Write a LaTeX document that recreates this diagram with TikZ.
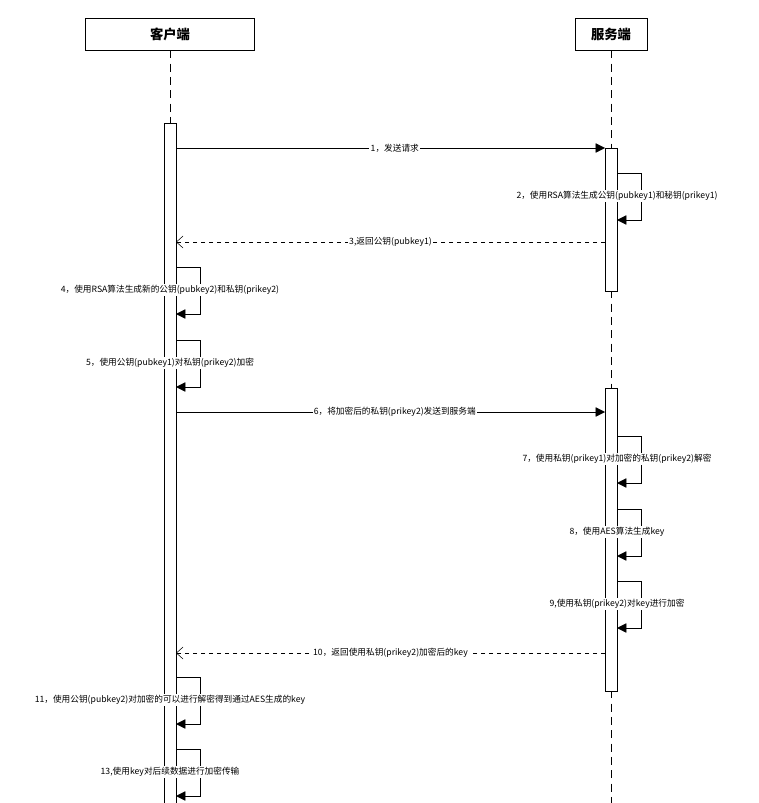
\documentclass[tikz,border=0pt]{standalone}
\usepackage{fontspec}
\setmainfont{Noto Sans CJK SC}
\usetikzlibrary{arrows.meta}
\begin{document}
\begin{tikzpicture}[x=0.75pt,y=-0.75pt,
  hdr/.style={draw,minimum width=#1,minimum height=24pt,inner sep=0,font=\fontsize{10}{12}\selectfont\bfseries},
  act/.style={draw,fill=white,minimum width=9pt,inner sep=0},
  lbl/.style={fill=white,inner sep=1pt,font=\fontsize{6.5}{8}\selectfont},
  msg/.style={-{Triangle[length=7pt,width=7pt]}},
  ret/.style={dashed,-{Straight Barb[length=5pt,width=9pt]}},
  life/.style={dash pattern=on 6pt off 4pt}]
\useasboundingbox (0,0) rectangle (759,803);
\node[hdr=127pt] (c) at (170,34) {客户端};
\node[hdr=54pt] (s) at (611,34) {服务端};
\coordinate (cb) at (170,803); \coordinate (sb) at (611,803);
\draw[life] (c) -- (cb);
\draw[life] (s) -- (sb);
\node[act,minimum height=510pt,anchor=north] (ca) at (170,123) {};
\node[act,minimum height=107pt,anchor=north] (sa1) at (611,148) {};
\node[act,minimum height=227pt,anchor=north] (sa2) at (611,388) {};
% 1
\coordinate (a1) at (176,148); \coordinate (b1) at (605,148);
\draw[msg] (a1) -- node[lbl,pos=0.51] {1，发送请求} (b1);
% self loops
\foreach \y/\t [count=\i] in {173/{2，使用RSA算法生成公钥(pubkey1)和秘钥(prikey1)},436/{7，使用私钥(prikey1)对加密的私钥(prikey2)解密},509/{8，使用AES算法生成key},581/{9,使用私钥(prikey2)对key进行加密}}{
  \coordinate (p\i) at (617,\y); \coordinate (q\i) at (641,\y);
  \coordinate (r\i) at (641,\y+47); \coordinate (t\i) at (617,\y+47);
  \draw[msg] (p\i) -- (q\i) -- (r\i) -- (t\i);
  \node[lbl] (sl\i) at (617,\y+23) {\t};
}
\foreach \y/\t [count=\i] in {267/{4，使用RSA算法生成新的公钥(pubkey2)和私钥(prikey2)},340/{5，使用公钥(pubkey1)对私钥(prikey2)加密},677/{11，使用公钥(pubkey2)对加密的可以进行解密得到通过AES生成的key},749/{13,使用key对后续数据进行加密传输}}{
  \coordinate (u\i) at (176,\y); \coordinate (v\i) at (200,\y);
  \coordinate (w\i) at (200,\y+47); \coordinate (z\i) at (176,\y+47);
  \draw[msg] (u\i) -- (v\i) -- (w\i) -- (z\i);
  \node[lbl] (cl\i) at (170,\y+23) {\t};
}
% 3
\coordinate (a3) at (605,242); \coordinate (b3) at (176,242);
\draw[ret] (a3) -- node[lbl,pos=0.5] {3,返回公钥(pubkey1)} (b3);
% 6
\coordinate (a6) at (176,412); \coordinate (b6) at (605,412);
\draw[msg] (a6) -- node[lbl,pos=0.51] {6，将加密后的私钥(prikey2)发送到服务端} (b6);
% 10
\coordinate (a10) at (605,653); \coordinate (b10) at (176,653);
\draw[ret] (a10) -- node[lbl,pos=0.5] {10，返回使用私钥(prikey2)加密后的key} (b10);
\end{tikzpicture}
\end{document}
